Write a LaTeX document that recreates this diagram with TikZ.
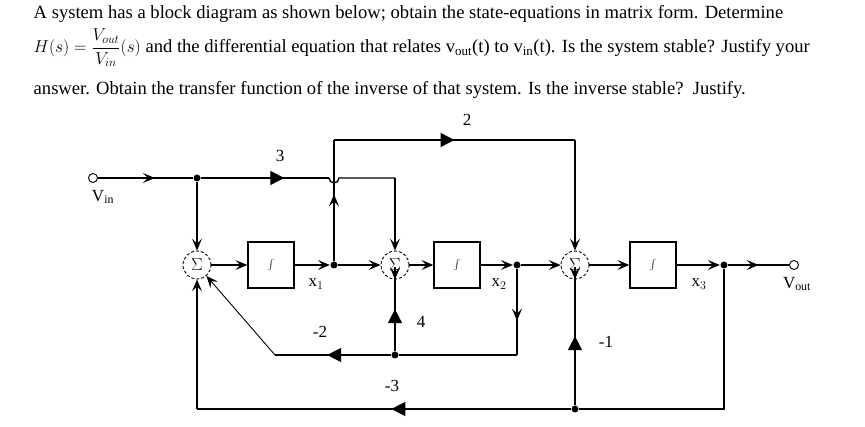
\documentclass[tikz,border=0pt]{standalone}
\usepackage{fontspec}
\setmainfont{Liberation Serif}
\usetikzlibrary{arrows.meta,decorations.markings}
\begin{document}
\begin{tikzpicture}[x=1pt,y=-1pt,line width=1.4pt,
  sumn/.style={circle,draw,densely dashed,line width=0.9pt,minimum size=28pt,inner sep=0pt,font=\fontsize{16}{16}\selectfont},
  intn/.style={draw,minimum size=46pt,inner sep=0pt,font=\fontsize{26}{26}\selectfont},
  dotn/.style={circle,fill,inner sep=0pt,minimum size=7pt},
  term/.style={circle,draw,line width=0.9pt,inner sep=0pt,minimum size=9pt},
  lbl/.style={font=\fontsize{17}{18}\selectfont},
  txt/.style={anchor=west,font=\fontsize{18.6}{20}\selectfont,inner sep=0},
  chev/.style={postaction={decorate},decoration={markings,mark=at position #1 with {\arrow{Stealth[length=12pt,width=10pt,inset=5pt]}}}},
  gain/.style={postaction={decorate},decoration={markings,mark=at position #1 with {\arrow{Triangle[length=14pt,width=14pt]}}}},
  tip/.style={-{Stealth[length=12pt,width=10pt,inset=5pt]}}]
\useasboundingbox (0,0) rectangle (865,427);
% text
\node[txt] at (33,14) {A system has a block diagram as shown below; obtain the state-equations in matrix form. Determine};
\node[txt] at (33,48) {$H(s)=\displaystyle\frac{V_{out}}{V_{in}}(s)$ and the differential equation that relates v$_{\mathrm{out}}$(t) to v$_{\mathrm{in}}$(t). Is the system stable? Justify your};
\node[txt] at (33,90) {answer. Obtain the transfer function of the inverse of that system. Is the inverse stable?\ \ Justify.};
% nodes
\node[term] (vin) at (93,178) {};
\node[lbl] at (103,197) {V$_{\mathrm{in}}$};
\node[dotn] (d0) at (197,178) {};
\node[sumn] (s1) at (197,265) {$\Sigma$};
\node[intn] (i1) at (271,265) {$\int$};
\node[dotn] (d1) at (334,265) {};
\node[sumn] (s2) at (395,265) {$\Sigma$};
\node[intn] (i2) at (457,265) {$\int$};
\node[dotn] (d2) at (517,265) {};
\node[sumn] (s3) at (575,265) {$\Sigma$};
\node[intn] (i3) at (653,265) {$\int$};
\node[dotn] (d3) at (724,265) {};
\node[term] (vout) at (794,265) {};
\node[lbl] at (797,284) {V$_{\mathrm{out}}$};
\node[dotn] (d4) at (395,355) {};
\node[dotn] (d5) at (575,409) {};
\coordinate (c1) at (517,355);
\coordinate (c2) at (275,355);
\coordinate (c3) at (724,409);
\coordinate (c4) at (197,409);
\coordinate (h1) at (329,178);
\coordinate (c5) at (395,178);
\coordinate (c6) at (334,140);
\coordinate (c7) at (575,140);
% labels
\node[lbl] at (280,156) {3};
\node[lbl] at (467,120) {2};
\node[lbl] at (316,284) {x$_1$};
\node[lbl] at (499,284) {x$_2$};
\node[lbl] at (699,284) {x$_3$};
\node[lbl] at (421,322) {4};
\node[lbl] at (320,332) {-2};
\node[lbl] at (606,342) {-1};
\node[lbl] at (392,386) {-3};
% connections
\draw[chev=0.6] (vin) -- (d0);
\draw[gain=0.65] (d0) -- (h1);
\draw (h1) arc (180:0:5) -- (c5);
\draw[tip] (c5) -- (s2);
\draw[tip] (d0) -- (s1);
\draw[tip] (s1) -- (i1);
\draw[tip] (i1) -- (d1);
\draw[tip] (d1) -- (s2);
\draw[chev=0.55] (d1) -- (c6);
\draw[gain=0.5] (c6) -- (c7);
\draw[tip] (c7) -- (s3);
\draw[tip] (s2) -- (i2);
\draw[tip] (i2) -- (d2);
\draw[tip] (d2) -- (s3);
\draw[tip] (s3) -- (i3);
\draw[tip] (i3) -- (d3);
\draw[chev=0.5] (d3) -- (vout);
\draw[chev=0.6] (d2) -- (c1);
\draw (c1) -- (d4);
\draw[gain=0.55] (d4) -- (c2);
\draw[tip,line width=0.9pt] (c2) -- (s1);
\draw[gain=0.5] (d4) -- ([yshift=12pt]s2.south);
\draw[tip] ([yshift=12pt]s2.south) -- (s2);
\draw (d3) -- (c3) -- (d5);
\draw[gain=0.48] (d5) -- (c4);
\draw[tip] (c4) -- (s1);
\draw[gain=0.5] (d5) -- ([yshift=12pt]s3.south);
\draw[tip] ([yshift=12pt]s3.south) -- (s3);
\end{tikzpicture}
\end{document}
